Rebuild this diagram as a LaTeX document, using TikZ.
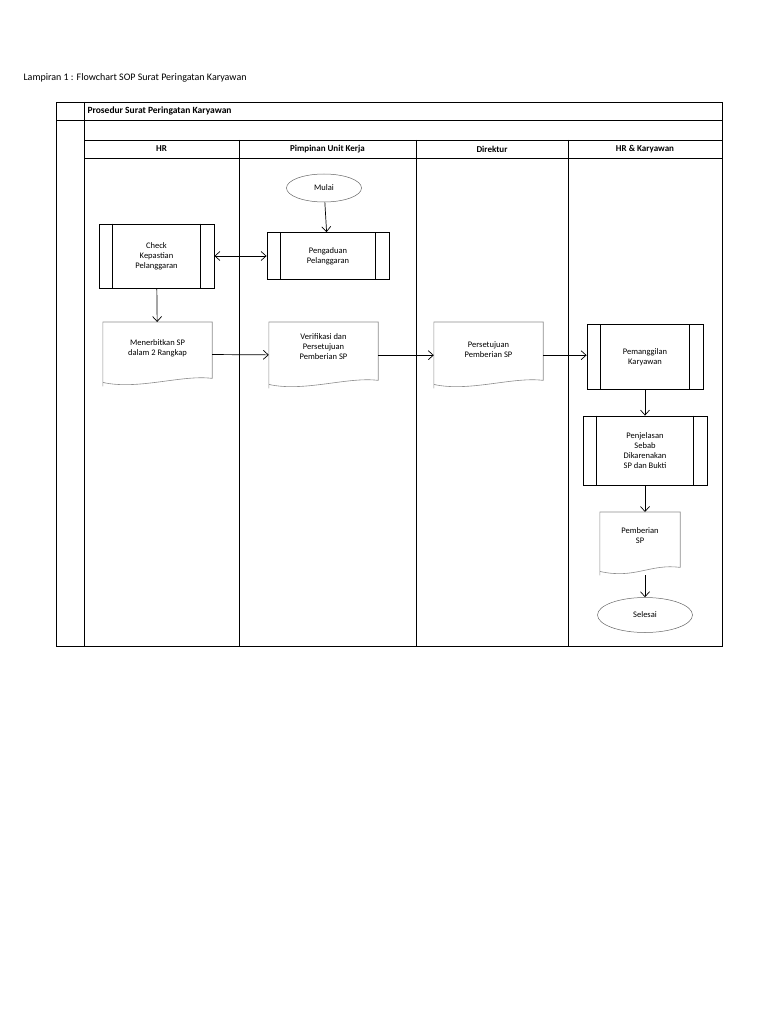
\documentclass[tikz,border=0pt]{standalone}
\usepackage{fontspec}
\setmainfont{Carlito}
\usetikzlibrary{arrows.meta,shapes.geometric}

% styles
\tikzset{
  lane/.style={draw=black, line width=0.9pt},
  flow/.style={-{Straight Barb[length=5pt,width=9pt]}, line width=0.7pt},
  oval/.style={ellipse, draw=black!60, line width=0.5pt, minimum width=75pt, minimum height=28pt, font=\fontsize{8.5}{10}\selectfont},
  proc/.style={rectangle, draw=black, line width=0.8pt, align=center, font=\fontsize{8.5}{10}\selectfont},
  doc/.style={rectangle, draw=none, align=center, font=\fontsize{8.5}{10}\selectfont},
  head/.style={font=\bfseries\fontsize{9}{11}\selectfont}
}

% document shape outline
\newcommand{\docshape}[1]{%
  \draw[black!45, line width=0.6pt] (#1.south west) -- (#1.north west) -- (#1.north east) -- ([yshift=8pt]#1.south east)
    .. controls ([xshift=-30pt,yshift=12pt]#1.south east) and ([xshift=35pt,yshift=-4pt]#1.south west) .. ([yshift=4pt]#1.south west) -- (#1.south west);}
% predefined process side bars
\newcommand{\sidebars}[1]{%
  \draw[line width=0.8pt] ([xshift=14pt]#1.north west) -- ([xshift=14pt]#1.south west);
  \draw[line width=0.8pt] ([xshift=-14pt]#1.north east) -- ([xshift=-14pt]#1.south east);}

\begin{document}
\begin{tikzpicture}[x=1pt, y=-1pt]
\useasboundingbox (0,0) rectangle (768,1024);

%title and table frame
\node[anchor=west, font=\fontsize{10}{12}\selectfont] (judul) at (20,78) {Lampiran 1 : Flowchart SOP Surat Peringatan Karyawan};
\draw[lane] (56,102) rectangle (722,646);
\draw[lane] (84,102) -- (84,646);
\draw[lane] (56,120) -- (722,120);
\draw[lane] (84,140) -- (722,140);
\draw[lane] (84,158) -- (722,158);
\foreach \xx in {239,416,568} {\draw[lane] (\xx,140) -- (\xx,646);}
\node[anchor=west, font=\bfseries\fontsize{9.5}{11}\selectfont] (prosedur) at (84,111) {Prosedur Surat Peringatan Karyawan};
\node[head] (hr) at (161.5,149) {HR};
\node[head] (piu) at (327.5,149) {Pimpinan Unit Kerja};
\node[head] (dir) at (492,149) {Direktur};
\node[head] (hrk) at (645,149) {HR \& Karyawan};

%place nodes
\node[oval] (mulai) at (324,188) {Mulai};
\node[proc, minimum width=122pt, minimum height=47pt] (aduan) at (328,256) {Pengaduan\\Pelanggaran};
\node[proc, minimum width=115pt, minimum height=64pt] (cek) at (156.5,256) {Check\\Kepastian\\Pelanggaran};
\node[doc, minimum width=109pt, minimum height=64pt, anchor=north] (terbit) at (157.5,322) {};
\node[doc, anchor=north] (terbitT) at (157.5,336) {Menerbitkan SP\\dalam 2 Rangkap};
\node[doc, minimum width=109pt, minimum height=66pt, anchor=north] (verif) at (323.5,322) {};
\node[doc, anchor=north] (verifT) at (323.5,330) {Verifikasi dan\\Persetujuan\\Pemberian SP};
\node[doc, minimum width=109pt, minimum height=66pt, anchor=north] (setuju) at (488.5,322) {};
\node[doc, anchor=north] (setujuT) at (488.5,338) {Persetujuan\\Pemberian SP};
\node[proc, minimum width=116pt, minimum height=65pt] (panggil) at (645,357) {Pemanggilan\\Karyawan};
\node[proc, minimum width=124pt, minimum height=69pt] (jelas) at (645,450.5) {Penjelasan\\Sebab\\Dikarenakan\\SP dan Bukti};
\node[doc, minimum width=80pt, minimum height=63pt, anchor=north] (beri) at (640,512) {};
\node[doc, anchor=north] (beriT) at (640,524) {Pemberian\\SP};
\node[oval, minimum width=95pt, minimum height=35pt] (selesai) at (645,615) {Selesai};

\foreach \n in {aduan,cek,panggil,jelas} {\sidebars{\n}}
\foreach \n in {terbit,verif,setuju,beri} {\docshape{\n}}

%connect nodes
\draw[flow] (mulai) -- (aduan);
\draw[flow, {Straight Barb[length=5pt,width=9pt]}-{Straight Barb[length=5pt,width=9pt]}] (cek) -- (aduan);
\draw[flow] (cek) -- (terbit);
\draw[flow] (terbit) -- (verif);
\draw[flow] (verif) -- (setuju);
\draw[flow] (setuju.east) -- (setuju.east -| panggil.west);
\draw[flow] (panggil) -- (jelas);
\draw[flow] (jelas.south) -- (jelas.south |- beri.north);
\draw[flow] (selesai.north |- beri.south) -- (selesai);
\end{tikzpicture}
\end{document}
